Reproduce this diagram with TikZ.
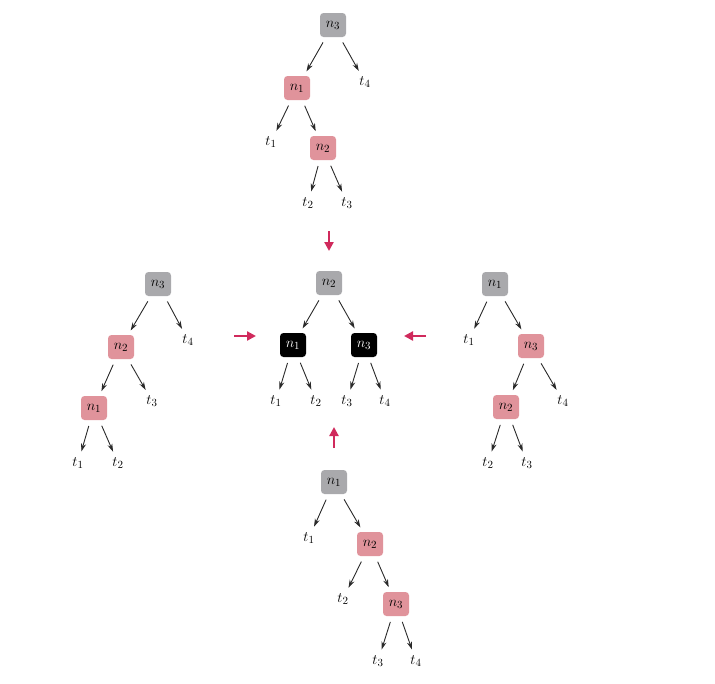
\documentclass[tikz,border=0pt]{standalone}
\usetikzlibrary{arrows.meta}
\definecolor{gbox}{HTML}{A9A9AC}
\definecolor{pbox}{HTML}{E0939B}
\definecolor{mag}{HTML}{D02A5C}
\definecolor{edg}{HTML}{2A2A2A}
\begin{document}
\begin{tikzpicture}[x=1pt,y=-1pt,
  box/.style={rounded corners=3.5pt,minimum width=26pt,minimum height=24pt,inner sep=0pt,font=\fontsize{15}{17}\selectfont},
  gnode/.style={box,fill=gbox},
  pnode/.style={box,fill=pbox},
  bnode/.style={box,fill=black,text=white},
  leaf/.style={inner sep=1pt,font=\fontsize{15}{17}\selectfont},
  ed/.style={-{Stealth[length=8pt,width=5pt]},edg,line width=0.9pt,shorten <=6pt,shorten >=5pt},
  big/.style={-{Triangle[length=9pt,width=9pt]},mag,line width=2.2pt}]
\useasboundingbox (0,0) rectangle (715,683);
% top tree
\node[gnode] (a3) at (333,25) {$n_3$};
\node[pnode] (a1) at (297,88) {$n_1$};
\node[leaf] (at4) at (365,82) {$t_4$};
\node[leaf] (at1) at (271,142) {$t_1$};
\node[pnode] (a2) at (323,148) {$n_2$};
\node[leaf] (at2) at (308,203) {$t_2$};
\node[leaf] (at3) at (347,203) {$t_3$};
\draw[ed] (a3) -- (a1); \draw[ed] (a3) -- (at4);
\draw[ed] (a1) -- (at1); \draw[ed] (a1) -- (a2);
\draw[ed] (a2) -- (at2); \draw[ed] (a2) -- (at3);
% center tree
\node[gnode] (c2) at (329,283) {$n_2$};
\node[bnode] (c1) at (293,345) {$n_1$};
\node[bnode] (c3) at (364,345) {$n_3$};
\node[leaf] (ct1) at (276,401) {$t_1$};
\node[leaf] (ct2) at (316,401) {$t_2$};
\node[leaf] (ct3) at (347,401) {$t_3$};
\node[leaf] (ct4) at (385,401) {$t_4$};
\draw[ed] (c2) -- (c1); \draw[ed] (c2) -- (c3);
\draw[ed] (c1) -- (ct1); \draw[ed] (c1) -- (ct2);
\draw[ed] (c3) -- (ct3); \draw[ed] (c3) -- (ct4);
% left tree
\node[gnode] (l3) at (158,284) {$n_3$};
\node[pnode] (l2) at (121,347) {$n_2$};
\node[leaf] (lt4) at (188,340) {$t_4$};
\node[pnode] (l1) at (94,408) {$n_1$};
\node[leaf] (lt3) at (152,401) {$t_3$};
\node[leaf] (lt1) at (78,463) {$t_1$};
\node[leaf] (lt2) at (118,463) {$t_2$};
\draw[ed] (l3) -- (l2); \draw[ed] (l3) -- (lt4);
\draw[ed] (l2) -- (l1); \draw[ed] (l2) -- (lt3);
\draw[ed] (l1) -- (lt1); \draw[ed] (l1) -- (lt2);
% right tree
\node[gnode] (r1) at (495,284) {$n_1$};
\node[leaf] (rt1) at (469,340) {$t_1$};
\node[pnode] (r3) at (531,346) {$n_3$};
\node[pnode] (r2) at (506,407) {$n_2$};
\node[leaf] (rt4) at (563,401) {$t_4$};
\node[leaf] (rt2) at (488,463) {$t_2$};
\node[leaf] (rt3) at (527,463) {$t_3$};
\draw[ed] (r1) -- (rt1); \draw[ed] (r1) -- (r3);
\draw[ed] (r3) -- (r2); \draw[ed] (r3) -- (rt4);
\draw[ed] (r2) -- (rt2); \draw[ed] (r2) -- (rt3);
% bottom tree
\node[gnode] (b1) at (334,482) {$n_1$};
\node[leaf] (bt1) at (309,538) {$t_1$};
\node[pnode] (b2) at (370,544) {$n_2$};
\node[leaf] (bt2) at (343,599) {$t_2$};
\node[pnode] (b3) at (396,604) {$n_3$};
\node[leaf] (bt3) at (378,661) {$t_3$};
\node[leaf] (bt4) at (416,661) {$t_4$};
\draw[ed] (b1) -- (bt1); \draw[ed] (b1) -- (b2);
\draw[ed] (b2) -- (bt2); \draw[ed] (b2) -- (b3);
\draw[ed] (b3) -- (bt3); \draw[ed] (b3) -- (bt4);
% magenta arrows
\coordinate (m1s) at (329,231); \coordinate (m1e) at (329,251);
\coordinate (m2s) at (234,336); \coordinate (m2e) at (256,336);
\coordinate (m3s) at (426,336); \coordinate (m3e) at (404,336);
\coordinate (m4s) at (334,448); \coordinate (m4e) at (334,427);
\draw[big] (m1s) -- (m1e);
\draw[big] (m2s) -- (m2e);
\draw[big] (m3s) -- (m3e);
\draw[big] (m4s) -- (m4e);
\end{tikzpicture}
\end{document}
